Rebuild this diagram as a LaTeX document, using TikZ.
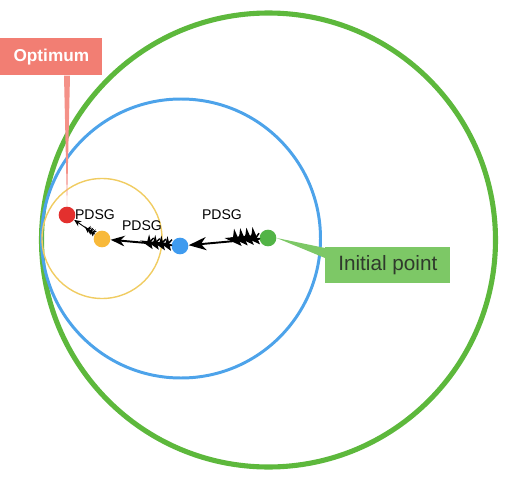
\documentclass[tikz,border=0pt]{standalone}
\usepackage{fontspec}
\setmainfont{Liberation Sans}
\usetikzlibrary{arrows.meta,positioning,decorations.markings}

\definecolor{ringgreen}{HTML}{5DB83C}
\definecolor{ringblue}{HTML}{4DA3EA}
\definecolor{ringyellow}{HTML}{F0CC62}
\definecolor{dotred}{HTML}{E3302E}
\definecolor{dotyellow}{HTML}{F8B93A}
\definecolor{dotblue}{HTML}{3F9BEF}
\definecolor{dotgreen}{HTML}{52B446}
\definecolor{tagred}{HTML}{F27E73}
\definecolor{taggreen}{HTML}{7DC866}
\definecolor{tagtext}{HTML}{2F3A2C}

\tikzset{
  pt/.style={circle,inner sep=0pt,minimum size=9.5pt},
  steplabel/.style={font=\fontsize{8}{9}\selectfont,inner sep=1pt},
  fletch/.style={postaction={decorate,decoration={markings,
      mark=between positions #1 step 3.5pt with {\draw[line width=.85pt,line cap=butt,line join=miter] (-2.6pt,-3.2pt)--(0,0)--(-2.6pt,3.2pt);}}}},
}

\begin{document}
\begin{tikzpicture}[x=0.02cm,y=-0.02cm,line cap=round,line join=round]
\path[use as bounding box] (0,0) rectangle (511,480);
% level sets
\draw[ringgreen,line width=2.9pt] (268.5,240) circle (227);
\draw[ringblue,line width=1.7pt] (181,238.5) circle (139.5);
\draw[ringyellow,line width=.8pt] (102,238.5) circle (60);
% tags
\node[fill=tagred,text=white,font=\bfseries\fontsize{9.8}{11}\selectfont,minimum width=102*0.02cm,minimum height=37*0.02cm,inner sep=0pt,anchor=north west] (opttag) at (0,38) {Optimum};
\node[fill=taggreen,text=tagtext,font=\fontsize{11.8}{13}\selectfont,minimum width=125*0.02cm,minimum height=36*0.02cm,inner sep=0pt,anchor=north west] (inittag) at (325,247) {Initial point};
% iterates
\node[pt,fill=dotred] (xopt) at (67,215) {};
\node[pt,fill=dotyellow] (xtwo) at (102,239) {};
\node[pt,fill=dotblue] (xone) at (180,246) {};
\node[pt,fill=dotgreen] (xzero) at (268,238) {};
% pointers
\coordinate (optfoot) at (xopt |- opttag.south);
\fill[tagred!85] ([xshift=-3*0.02cm]optfoot) -- ([xshift=3*0.02cm]optfoot) -- (xopt.north) -- cycle;
\fill[taggreen] (xzero.east) -- ([yshift=-1*0.02cm]inittag.north west) -- ([yshift=-11*0.02cm]inittag.north west) -- cycle;
% steps
\draw[line width=1.1pt,-{Stealth[length=10pt,width=7.5pt,inset=3pt]},fletch={2.5pt and 13pt}] (xzero) -- (xone);
\draw[line width=1.1pt,-{Stealth[length=8pt,width=6pt,inset=2.5pt]},fletch={2.5pt and 13pt}] (xone) -- (xtwo);
\draw[line width=.5pt,-{Stealth[length=4pt,width=3.5pt]},postaction={decorate,decoration={markings,
      mark=between positions 1.5pt and 5pt step 1.7pt with {\draw[line width=.6pt,line cap=butt] (-1.3pt,-1.8pt)--(0,0)--(-1.3pt,1.8pt);}}}] (xtwo) -- (xopt);
% labels
\node[steplabel] (lblzero) at (222,215) {PDSG};
\node[steplabel] (lblone) at (142,226) {PDSG};
\node[steplabel] (lbltwo) at (95,215) {PDSG};
\end{tikzpicture}
\end{document}
